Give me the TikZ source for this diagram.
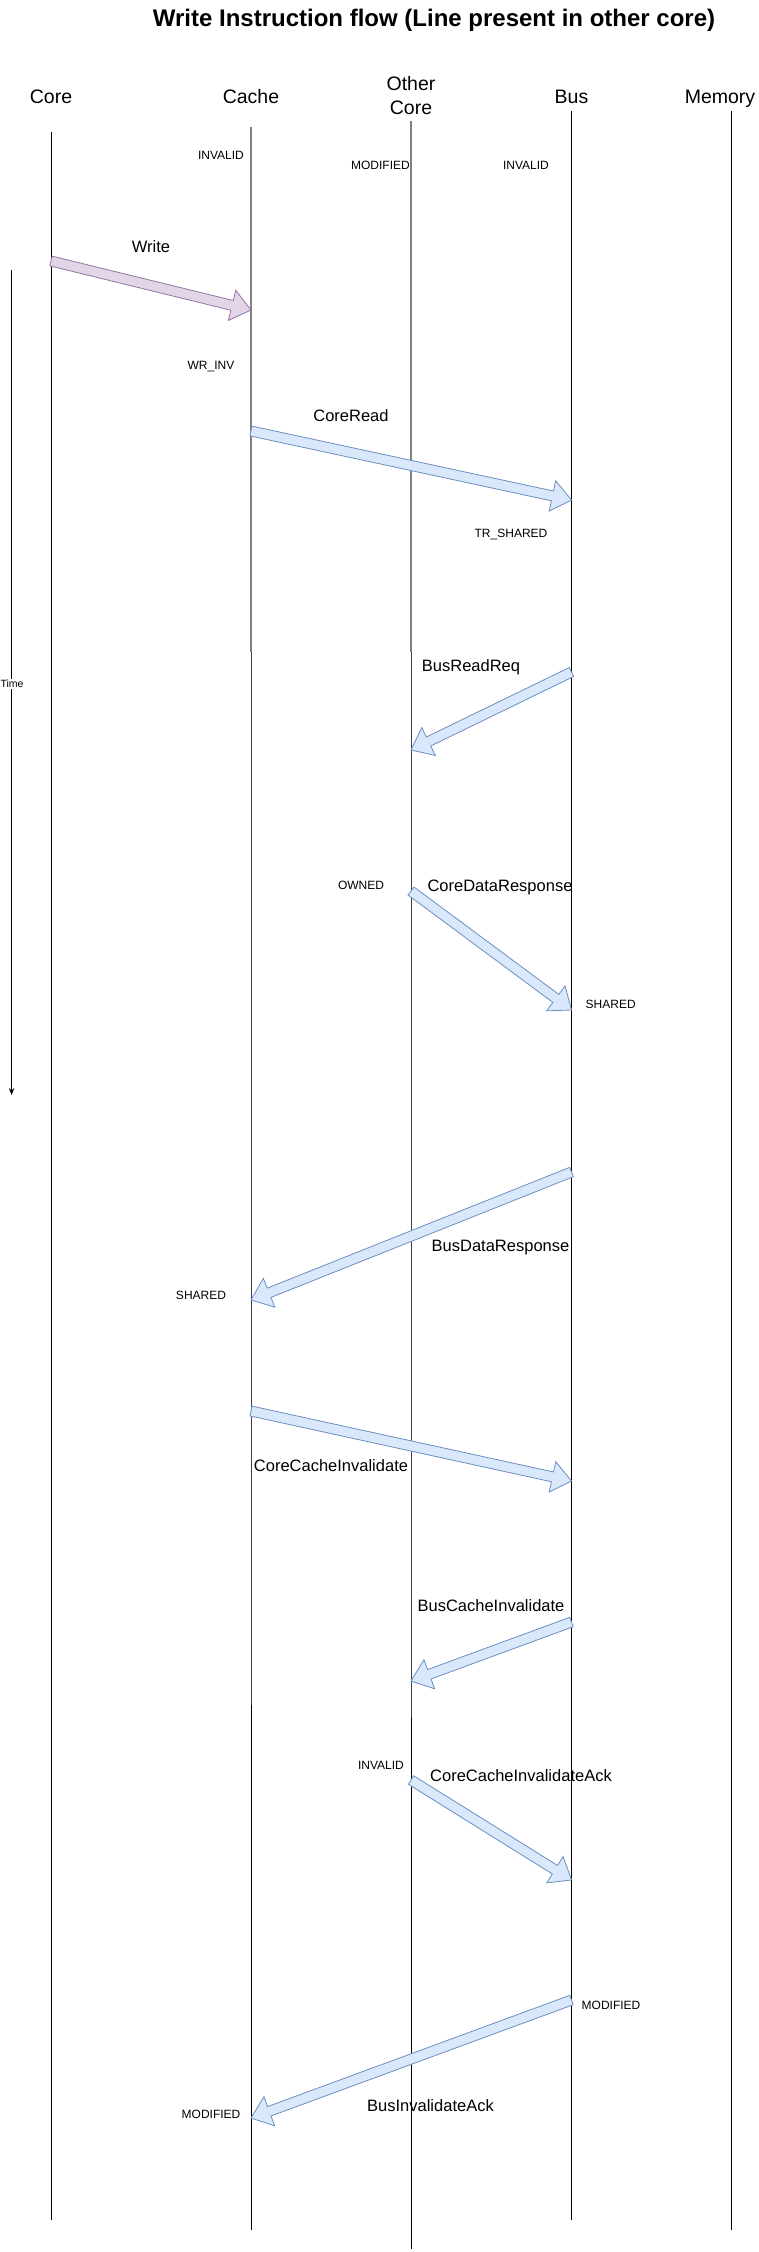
\documentclass[tikz,border=0pt]{standalone}
\usepackage{fontspec}
\setmainfont{Liberation Sans}
\usetikzlibrary{calc,arrows.meta}

\definecolor{msgfill}{HTML}{DAE8FC}
\definecolor{msgdraw}{HTML}{6C8EBF}
\definecolor{wrfill}{HTML}{E1D5E7}
\definecolor{wrdraw}{HTML}{9673A6}

% block arrow: #1 name, #2 style, #3 start, #4 tip
\newcommand{\flexarrow}[4]{%
  \coordinate (#1h) at ($(#4)!19.5pt!(#3)$);
  \draw[#2] ($(#3)!5pt!90:(#4)$) -- ($(#1h)!5pt!90:(#4)$) -- ($(#1h)!15.5pt!90:(#4)$)
    -- (#4) -- ($(#1h)!15.5pt!-90:(#4)$) -- ($(#1h)!5pt!-90:(#4)$) -- ($(#3)!5pt!-90:(#4)$) -- cycle;}

\begin{document}
\begin{tikzpicture}[x=1pt, y=-1pt,
    every node/.style={inner sep=0pt},
    title/.style={font=\fontsize{24}{28}\selectfont\bfseries, anchor=base},
    head/.style={font=\fontsize{19.5}{24}\selectfont, anchor=base, align=center},
    msg/.style={font=\fontsize{16.5}{20}\selectfont, anchor=base},
    state/.style={font=\fontsize{12}{14}\selectfont, anchor=base},
    life/.style={line width=1pt},
    lifegray/.style={draw=black!50, line width=1.4pt},
    lifemid/.style={draw=black!75, line width=0.8pt},
    flexblue/.style={draw=msgdraw, fill=msgfill, line width=0.8pt},
    flexpurple/.style={draw=wrdraw, fill=wrfill, line width=0.8pt}]
  \useasboundingbox (0,0) rectangle (758,2252);

  \node[title] (title) at (434,26) {Write Instruction flow (Line present in other core)};

  % participants
  \node[head] (core) at (51,103) {Core};
  \node[head] (cache) at (251,103) {Cache};
  \node[head] (other) at (411,114) {Other\\Core};
  \node[head] (bus) at (571.5,103) {Bus};
  \node[head] (mem) at (720,103) {Memory};

  % lifelines
  \coordinate (coreT) at (51,132);     \coordinate (coreB) at (51,2220);
  \coordinate (cacheT) at (251,127);   \coordinate (cacheM) at (251,652);
  \coordinate (cacheN) at (251,1705);  \coordinate (cacheB) at (251,2230);
  \coordinate (otherT) at (411,121);   \coordinate (otherM) at (411,652);
  \coordinate (otherN) at (411,1718);  \coordinate (otherB) at (411,2249);
  \coordinate (busT) at (571.5,111);   \coordinate (busB) at (571.5,2220);
  \coordinate (memT) at (731.5,111);   \coordinate (memB) at (731.5,2230);
  \draw[life] (coreT) -- (coreB);
  \draw[lifegray] (cacheT) -- (cacheM);
  \draw[lifemid] (cacheM) -- (cacheN);
  \draw[life] (cacheN) -- (cacheB);
  \draw[lifegray] (otherT) -- (otherM);
  \draw[lifemid] (otherM) -- (otherN);
  \draw[life] (otherN) -- (otherB);
  \draw[life] (busT) -- (busB);
  \draw[life] (memT) -- (memB);

  % time axis
  \coordinate (timeT) at (11.6,270);
  \coordinate (timeB) at (11.6,1095);
  \draw[line width=1pt, -{Stealth[length=7pt,width=5.5pt]}] (timeT) -- (timeB);
  \node[fill=white, inner sep=1pt, font=\fontsize{10.5}{12}\selectfont] (time) at (12,684) {Time};

  % initial states
  \node[state, anchor=base east] (s1) at (244,159) {INVALID};
  \node[state, anchor=base east] (s2) at (410,169) {MODIFIED};
  \node[state] (s3) at (526,169) {INVALID};

  % messages
  \coordinate (wrS) at (51,261);      \coordinate (wrT) at (251,310);
  \flexarrow{wr}{flexpurple}{wrS}{wrT}
  \node[msg] (wrL) at (151,252) {Write};
  \node[state] (s4) at (211,369) {WR\_INV};

  \coordinate (crS) at (251,431);     \coordinate (crT) at (571.5,500);
  \flexarrow{cr}{flexblue}{crS}{crT}
  \node[msg] (crL) at (351,421) {CoreRead};
  \node[state] (s5) at (511,537) {TR\_SHARED};

  \coordinate (brS) at (571.5,672);   \coordinate (brT) at (411,750);
  \flexarrow{br}{flexblue}{brS}{brT}
  \node[msg] (brL) at (471,671) {BusReadReq};

  \coordinate (cdS) at (411,891);     \coordinate (cdT) at (571.5,1010);
  \flexarrow{cd}{flexblue}{cdS}{cdT}
  \node[msg] (cdL) at (500,891) {CoreDataResponse};
  \node[state] (s6) at (361,889) {OWNED};
  \node[state, anchor=base west] (s7) at (585.5,1008.6) {SHARED};

  \coordinate (bdS) at (571.5,1172);  \coordinate (bdT) at (251,1300);
  \flexarrow{bd}{flexblue}{bdS}{bdT}
  \node[msg] (bdL) at (500.5,1251) {BusDataResponse};
  \node[state] (s8) at (201,1299) {SHARED};

  \coordinate (ciS) at (251,1411);    \coordinate (ciT) at (571.5,1481);
  \flexarrow{ci}{flexblue}{ciS}{ciT}
  \node[msg] (ciL) at (331,1471) {CoreCacheInvalidate};

  \coordinate (biS) at (571.5,1622);  \coordinate (biT) at (411,1681);
  \flexarrow{bi}{flexblue}{biS}{biT}
  \node[msg] (biL) at (491,1611) {BusCacheInvalidate};

  \coordinate (caS) at (411,1780);    \coordinate (caT) at (571.5,1880);
  \flexarrow{ca}{flexblue}{caS}{caT}
  \node[msg] (caL) at (521,1781) {CoreCacheInvalidateAck};
  \node[state] (s9) at (381,1769) {INVALID};

  \coordinate (baS) at (571.5,2000);  \coordinate (baT) at (251,2118);
  \flexarrow{ba}{flexblue}{baS}{baT}
  \node[msg] (baL) at (430.5,2111) {BusInvalidateAck};
  \node[state] (s10) at (611,2009) {MODIFIED};
  \node[state] (s11) at (211,2118) {MODIFIED};
\end{tikzpicture}
\end{document}
